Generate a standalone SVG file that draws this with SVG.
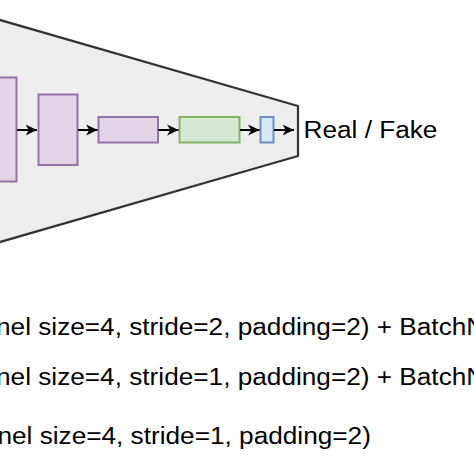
<svg xmlns="http://www.w3.org/2000/svg" width="474" height="474" viewBox="0 0 474 474">
<style>
.purple{fill:#e1d5e7;stroke:#9673a6;stroke-width:2}
.green{fill:#d5e8d4;stroke:#82b366;stroke-width:2}
.blue{fill:#dae8fc;stroke:#6c8ebf;stroke-width:2}
.body{fill:#eeeeee;stroke:#333333;stroke-width:2.2}
.conn{stroke:#000;stroke-width:2;fill:none;marker-end:url(#arr)}
text{font-family:"Liberation Sans",Arial,sans-serif;font-size:23.4px;fill:#000}
</style>
<defs>
<marker id="arr" markerUnits="userSpaceOnUse" markerWidth="12" markerHeight="12" viewBox="0 0 11 11" refX="10.5" refY="5.5" orient="auto">
<path d="M0,0.5 L10.5,5.5 L0,10.5 L3,5.5 z" fill="#000"/>
</marker>
</defs>
<rect width="474" height="474" fill="#ffffff"/>
<g id="discriminator">
<polygon class="body" points="-10,17.1 298,106 298,156 -10,244.9"/>
</g>
<g id="conv1"><rect class="purple" x="-10" y="77.5" width="26.5" height="104"/></g>
<g id="conv2"><rect class="purple" x="38.5" y="94.5" width="39" height="70.5"/></g>
<g id="conv3"><rect class="purple" x="98.5" y="117" width="59.5" height="25.5"/></g>
<g id="conv4"><rect class="green" x="179.5" y="117" width="60" height="25.5"/></g>
<g id="conv5"><rect class="blue" x="260.5" y="117" width="13" height="25.5"/></g>
<g id="connectors">
<path class="conn" d="M17,130 H37"/>
<path class="conn" d="M78,130 H97.5"/>
<path class="conn" d="M158.5,130 H178.5"/>
<path class="conn" d="M240,130 H259.5"/>
<path class="conn" d="M274,130 H294"/>
</g>
<g id="output-label">
<text transform="matrix(1.12 0 0 1 303.5 138)">Real / Fake</text>
</g>
<g id="legend">
<text transform="matrix(1.12 0 0 1 -4 335)">nel size=4, stride=2, padding=2) + BatchN</text>
<text transform="matrix(1.12 0 0 1 -4 385)">nel size=4, stride=1, padding=2) + BatchN</text>
<text transform="matrix(1.12 0 0 1 -2.6 443.5)">nel size=4, stride=1, padding=2)</text>
</g>
</svg>
